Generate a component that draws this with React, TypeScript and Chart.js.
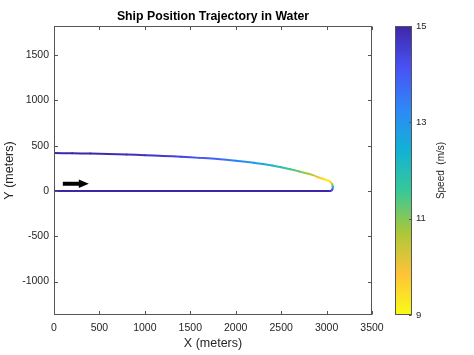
import React, { useEffect, useRef } from "react";
import { Chart, registerables } from "chart.js";

Chart.register(...registerables);

// Trajectory (meters) and speed (m/s) along the path
const pathX = [0, 3000, 3040, 3058, 3066, 3068, 3062, 3048, 3025, 2990, 2950, 2900, 2850, 2800, 2700, 2600, 2500, 2400, 2300, 2200, 2000, 1800, 1600, 1400, 1200, 1000, 800, 600, 400, 200, 0];
const pathY = [0, 0, 1, 8, 25, 50, 75, 95, 112, 125, 138, 155, 175, 190, 216, 240, 262, 282, 298, 313, 335, 353, 366, 378, 388, 396, 403, 409, 414, 417, 419];
const speed = [15, 15, 14.8, 14.3, 13.5, 12.3, 10.8, 9.7, 9.3, 9.3, 9.6, 10.0, 10.4, 10.7, 11.1, 11.5, 11.9, 12.2, 12.6, 12.9, 13.4, 13.8, 14.1, 14.4, 14.6, 14.75, 14.85, 14.9, 15, 15, 15];

// Direction arrow (data coords)
const arrowX = [97, 383];
const arrowY = [80, 80];

// Axes
const xRange = [0, 3500];
const yRange = [-1370, 1823];
const xTicks = [0, 500, 1000, 1500, 2000, 2500, 3000, 3500];
const yTicks = [-1000, -500, 0, 500, 1000, 1500];
const speedRange = [9, 15];
const speedTicks = [9, 11, 13, 15];

const TITLE = "Ship Position Trajectory in Water";
const X_LABEL = "X (meters)";
const Y_LABEL = "Y (meters)";
const CB_LABEL = "Speed  (m/s)";

const PARULA: number[][] = [
  [62, 38, 168],
  [72, 82, 244],
  [46, 135, 247],
  [18, 177, 214],
  [55, 200, 151],
  [171, 199, 57],
  [254, 195, 56],
  [249, 251, 21],
];

function parula(t: number): string {
  t = Math.max(0, Math.min(1, t));
  const n = PARULA.length - 1;
  const p = t * n;
  const i = Math.min(n - 1, Math.floor(p));
  const f = p - i;
  const a = PARULA[i], b = PARULA[i + 1];
  const c = a.map((v, k) => Math.round(v + (b[k] - v) * f));
  return `rgb(${c[0]},${c[1]},${c[2]})`;
}

function speedColor(s: number): string {
  return parula(1 - (s - speedRange[0]) / (speedRange[1] - speedRange[0]));
}

const FONT = "'Liberation Sans', Arial, Helvetica, sans-serif";
const TEXT = "#262626";
const FRAME = "#555555";

const setTicks = (vals: number[]) => (s: any) => {
  s.ticks = vals.map((v) => ({ value: v }));
};

const framePlugin = {
  id: "matlabFrame",
  afterDatasetsDraw(chart: any) {
    const { ctx, scales } = chart;
    const xs = scales.x, ys = scales.y;
    const x0 = xs.getPixelForValue(arrowX[0]);
    const x1 = xs.getPixelForValue(arrowX[1]);
    const y0 = ys.getPixelForValue(arrowY[0]);
    const y1 = ys.getPixelForValue(arrowY[1]);
    const ang = Math.atan2(y1 - y0, x1 - x0);
    const headLen = 10, headHalf = 4.2;
    const cs = Math.cos(ang), sn = Math.sin(ang);
    const bx = x1 - headLen * cs, by = y1 - headLen * sn;
    ctx.save();
    ctx.strokeStyle = "#000";
    ctx.fillStyle = "#000";
    ctx.lineWidth = 4;
    ctx.beginPath();
    ctx.moveTo(x0, y0);
    ctx.lineTo(bx + cs, by + sn);
    ctx.stroke();
    ctx.beginPath();
    ctx.moveTo(x1, y1);
    ctx.lineTo(bx + headHalf * sn, by - headHalf * cs);
    ctx.lineTo(bx - headHalf * sn, by + headHalf * cs);
    ctx.closePath();
    ctx.fill();
    ctx.restore();
  },
  afterDraw(chart: any) {
    const { ctx, chartArea: a, scales } = chart;
    ctx.save();
    ctx.strokeStyle = FRAME;
    ctx.lineWidth = 1;
    const L = Math.round(a.left) + 0.5, R = Math.round(a.right) - 0.5;
    const T = Math.round(a.top) + 0.5, B = Math.round(a.bottom) - 0.5;
    ctx.strokeRect(L, T, R - L, B - T);
    const tl = 3.5;
    ctx.beginPath();
    scales.x.ticks.forEach((t: any) => {
      const px = Math.round(scales.x.getPixelForValue(t.value)) + 0.5;
      ctx.moveTo(px, B); ctx.lineTo(px, B - tl);
      ctx.moveTo(px, T); ctx.lineTo(px, T + tl);
    });
    scales.y.ticks.forEach((t: any) => {
      const py = Math.round(scales.y.getPixelForValue(t.value)) + 0.5;
      ctx.moveTo(L, py); ctx.lineTo(L + tl, py);
      ctx.moveTo(R, py); ctx.lineTo(R - tl, py);
    });
    ctx.stroke();
    ctx.restore();
  },
};

const colorbarPlugin = {
  id: "colorbarFrame",
  afterDraw(chart: any) {
    const { ctx, chartArea: a, scales } = chart;
    ctx.save();
    ctx.strokeStyle = FRAME;
    ctx.lineWidth = 1;
    const L = Math.round(a.left) + 0.5, R = Math.round(a.right) - 0.5;
    const T = Math.round(a.top) + 0.5, B = Math.round(a.bottom) - 0.5;
    ctx.strokeRect(L, T, R - L, B - T);
    ctx.beginPath();
    scales.y.ticks.forEach((t: any) => {
      const py = Math.round(scales.y.getPixelForValue(t.value)) + 0.5;
      ctx.moveTo(R, py); ctx.lineTo(R - 2.5, py);
    });
    ctx.stroke();
    ctx.fillStyle = TEXT;
    ctx.font = `10px ${FONT}`;
    ctx.textAlign = "center";
    ctx.textBaseline = "middle";
    ctx.translate(61, (a.top + a.bottom) / 2);
    ctx.rotate(-Math.PI / 2);
    ctx.fillText(CB_LABEL, 0, 0);
    ctx.restore();
  },
};

export default function App() {
  const mainRef = useRef<HTMLCanvasElement | null>(null);
  const cbRef = useRef<HTMLCanvasElement | null>(null);

  useEffect(() => {
    if (!mainRef.current || !cbRef.current) return;
    const points = pathX.map((x, i) => ({ x, y: pathY[i] }));
    const main = new Chart(mainRef.current, {
      type: "scatter",
      data: {
        datasets: [
          {
            data: points,
            showLine: true,
            pointRadius: 0,
            borderWidth: 2,
            tension: 0.3,
            borderCapStyle: "round",
            borderJoinStyle: "round",
            borderColor: speedColor(15),
            segment: {
              borderColor: (c: any) => {
                const g = c.chart.ctx.createLinearGradient(c.p0.x, c.p0.y, c.p1.x, c.p1.y);
                g.addColorStop(0, speedColor(speed[c.p0DataIndex]));
                g.addColorStop(1, speedColor(speed[c.p1DataIndex]));
                return g;
              },
            },
          } as any,
        ],
      },
      options: {
        animation: false,
        responsive: false,
        maintainAspectRatio: false,
        layout: { padding: { left: 0, right: 102, top: 0, bottom: 0 } },
        plugins: {
          legend: { display: false },
          tooltip: { enabled: false },
          title: {
            display: true,
            text: TITLE,
            color: "#000",
            fullSize: false,
            font: { family: FONT, size: 12.3, weight: "bold" },
            padding: { top: 9, bottom: 2.24 },
          } as any,
        },
        scales: {
          x: {
            type: "linear",
            min: xRange[0],
            max: xRange[1],
            afterBuildTicks: setTicks(xTicks),
            grid: { display: false, drawTicks: false },
            border: { display: false },
            ticks: { color: TEXT, padding: 7, font: { family: FONT, size: 10.5 }, maxRotation: 0, autoSkip: false, callback: (v: any) => String(v) },
            title: { display: true, text: X_LABEL, color: TEXT, font: { family: FONT, size: 12.5 }, padding: { top: 0, bottom: 4 } },
            afterFit: (s: any) => { s.height = 40; },
          },
          y: {
            type: "linear",
            min: yRange[0],
            max: yRange[1],
            afterBuildTicks: setTicks(yTicks),
            grid: { display: false, drawTicks: false },
            border: { display: false },
            ticks: { color: TEXT, padding: 5, font: { family: FONT, size: 10.5 }, autoSkip: false, callback: (v: any) => String(v) },
            title: { display: true, text: Y_LABEL, color: TEXT, font: { family: FONT, size: 12.5 }, padding: { top: 2, bottom: 0 } },
            afterFit: (s: any) => { s.width = 54; },
          },
        },
      },
      plugins: [framePlugin],
    });

    const cb = new Chart(cbRef.current, {
      type: "bar",
      data: {
        labels: ["speed"],
        datasets: [
          {
            data: [[speedRange[0], speedRange[1]]],
            barPercentage: 1,
            categoryPercentage: 1,
            borderWidth: 0,
            borderSkipped: false,
            backgroundColor: (c: any) => {
              const ch = c.chart;
              const ys = ch.scales.y;
              if (!ch.chartArea || !ys) return speedColor(12);
              const g = ch.ctx.createLinearGradient(0, ys.getPixelForValue(speedRange[0]), 0, ys.getPixelForValue(speedRange[1]));
              const N = 28;
              for (let i = 0; i <= N; i++) {
                const t = i / N;
                g.addColorStop(t, speedColor(speedRange[0] + t * (speedRange[1] - speedRange[0])));
              }
              return g;
            },
          } as any,
        ],
      },
      options: {
        animation: false,
        responsive: false,
        maintainAspectRatio: false,
        layout: { padding: { left: 15, right: 0, top: 26, bottom: 40 } },
        plugins: { legend: { display: false }, tooltip: { enabled: false } },
        scales: {
          x: { display: false },
          y: {
            position: "right",
            min: speedRange[0],
            max: speedRange[1],
            afterBuildTicks: setTicks(speedTicks),
            grid: { display: false, drawTicks: false },
            border: { display: false },
            ticks: { color: TEXT, padding: 4, font: { family: FONT, size: 9.5 }, autoSkip: false },
            afterFit: (s: any) => { s.width = 62; },
          },
        },
      },
      plugins: [colorbarPlugin],
    });

    return () => {
      main.destroy();
      cb.destroy();
    };
  }, []);

  return (
    <div style={{ position: "fixed", left: 0, top: 0, width: 474, height: 355, background: "#fff" }}>
      <canvas ref={mainRef} width={474} height={355} style={{ position: "absolute", left: 0, top: 0, width: 474, height: 355 }} />
      <canvas ref={cbRef} width={94} height={355} style={{ position: "absolute", left: 380, top: 0, width: 94, height: 355 }} />
    </div>
  );
}
